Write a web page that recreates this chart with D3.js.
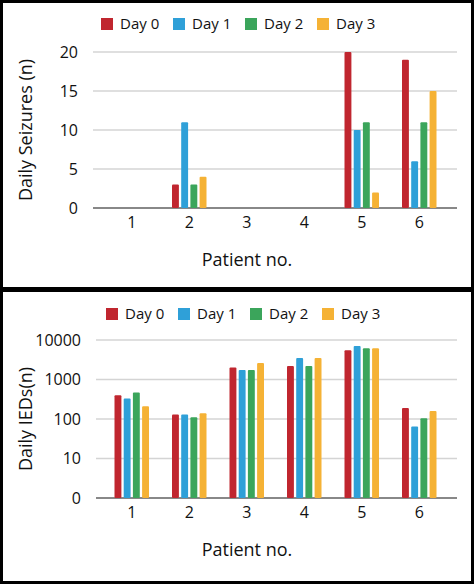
<!DOCTYPE html>
<html><head><meta charset="utf-8">
<script src="https://cdn.jsdelivr.net/npm/d3@7"></script>
<style>body{margin:0;background:#000}svg{display:block}text{font-family:"Open Sans",sans-serif;fill:#111}</style>
</head><body><svg id="c" width="474" height="584"></svg>
<script>
const patients = ["1","2","3","4","5","6"];
const days = ["Day 0","Day 1","Day 2","Day 3"];
const colors = ["#c0262f","#2fa0d8","#3ba55b","#f5b235"];
const seizures = [[0,0,0,0],[3,11,3,4],[0,0,0,0],[0,0,0,0],[20,10,11,2],[19,6,11,15]];
const ieds = [[400,330,470,210],[130,130,110,140],[2000,1750,1750,2600],[2200,3500,2200,3500],[5500,7000,6200,6200],[190,65,105,160]];
const seizureTicks = [0,5,10,15,20];
const iedTicks = [1,10,100,1000,10000];
const iedTickLabels = ["0","10","100","1000","10000"];

const svg = d3.select("#c");
svg.append("rect").attr("x",3).attr("y",3).attr("width",468).attr("height",284).attr("fill","#fff");
svg.append("rect").attr("x",3).attr("y",292).attr("width",468).attr("height",289).attr("fill","#fff");

function panel(oy, data, y, ticks, labels, ytitle, legendX, plotLeft){
  const g = svg.append("g").attr("transform",`translate(0,${oy})`);
  const x0 = d3.scaleBand().domain(patients).range([103,448]).paddingInner(0.4).paddingOuter(0.2);
  const x1 = d3.scaleBand().domain(days).range([0,x0.bandwidth()]).paddingInner(0.25);
  ticks.forEach((t,i)=>{
    g.append("line").attr("x1",plotLeft).attr("x2",457).attr("y1",y(t)).attr("y2",y(t))
      .attr("stroke", i===0?"#888":"#d4d4d4").attr("stroke-width",i===0?2:1.5);
    g.append("text").attr("x",plotLeft-15).attr("y",y(t)).attr("dy","0.35em").attr("text-anchor","end")
      .attr("font-size",16).text(labels[i]);
  });
  data.forEach((vals,pi)=>{
    vals.forEach((v,di)=>{
      const base = y(ticks[0]);
      const top = y(Math.max(v, ticks[0]));
      if (base-top<=0) return;
      g.append("rect").attr("x",x0(patients[pi])+x1(days[di])).attr("width",x1.bandwidth())
        .attr("y",top).attr("height",base-top).attr("fill",colors[di]).attr("rx",1);
    });
  });
  patients.forEach(p=>g.append("text").attr("x",x0(p)+x0.bandwidth()/2).attr("y",y(ticks[0])+20)
    .attr("text-anchor","middle").attr("font-size",16).text(p));
  g.append("text").attr("x",247).attr("y",y(ticks[0])+58).attr("text-anchor","middle").attr("font-size",18).text("Patient no.");
  g.append("text").attr("transform",`translate(32,${(y(ticks[0])+y(ticks[ticks.length-1]))/2}) rotate(-90)`)
    .attr("text-anchor","middle").attr("font-size",18).text(ytitle);
  days.forEach((d,i)=>{
    const lx = legendX + i*72;
    g.append("rect").attr("x",lx).attr("y",18).attr("width",12).attr("height",12).attr("fill",colors[i]);
    g.append("text").attr("x",lx+19).attr("y",24).attr("dy","0.35em").attr("font-size",15).text(d);
  });
}
const yS = d3.scaleLinear().domain([0,20]).range([208,52]);
panel(0, seizures, yS, seizureTicks, seizureTicks.map(String), "Daily Seizures (n)", 101, 93);
const yL = d3.scaleLog().domain([1,10000]).range([208,50]);
panel(290, ieds, yL, iedTicks, iedTickLabels, "Daily IEDs(n)", 106, 96);
</script></body></html>
